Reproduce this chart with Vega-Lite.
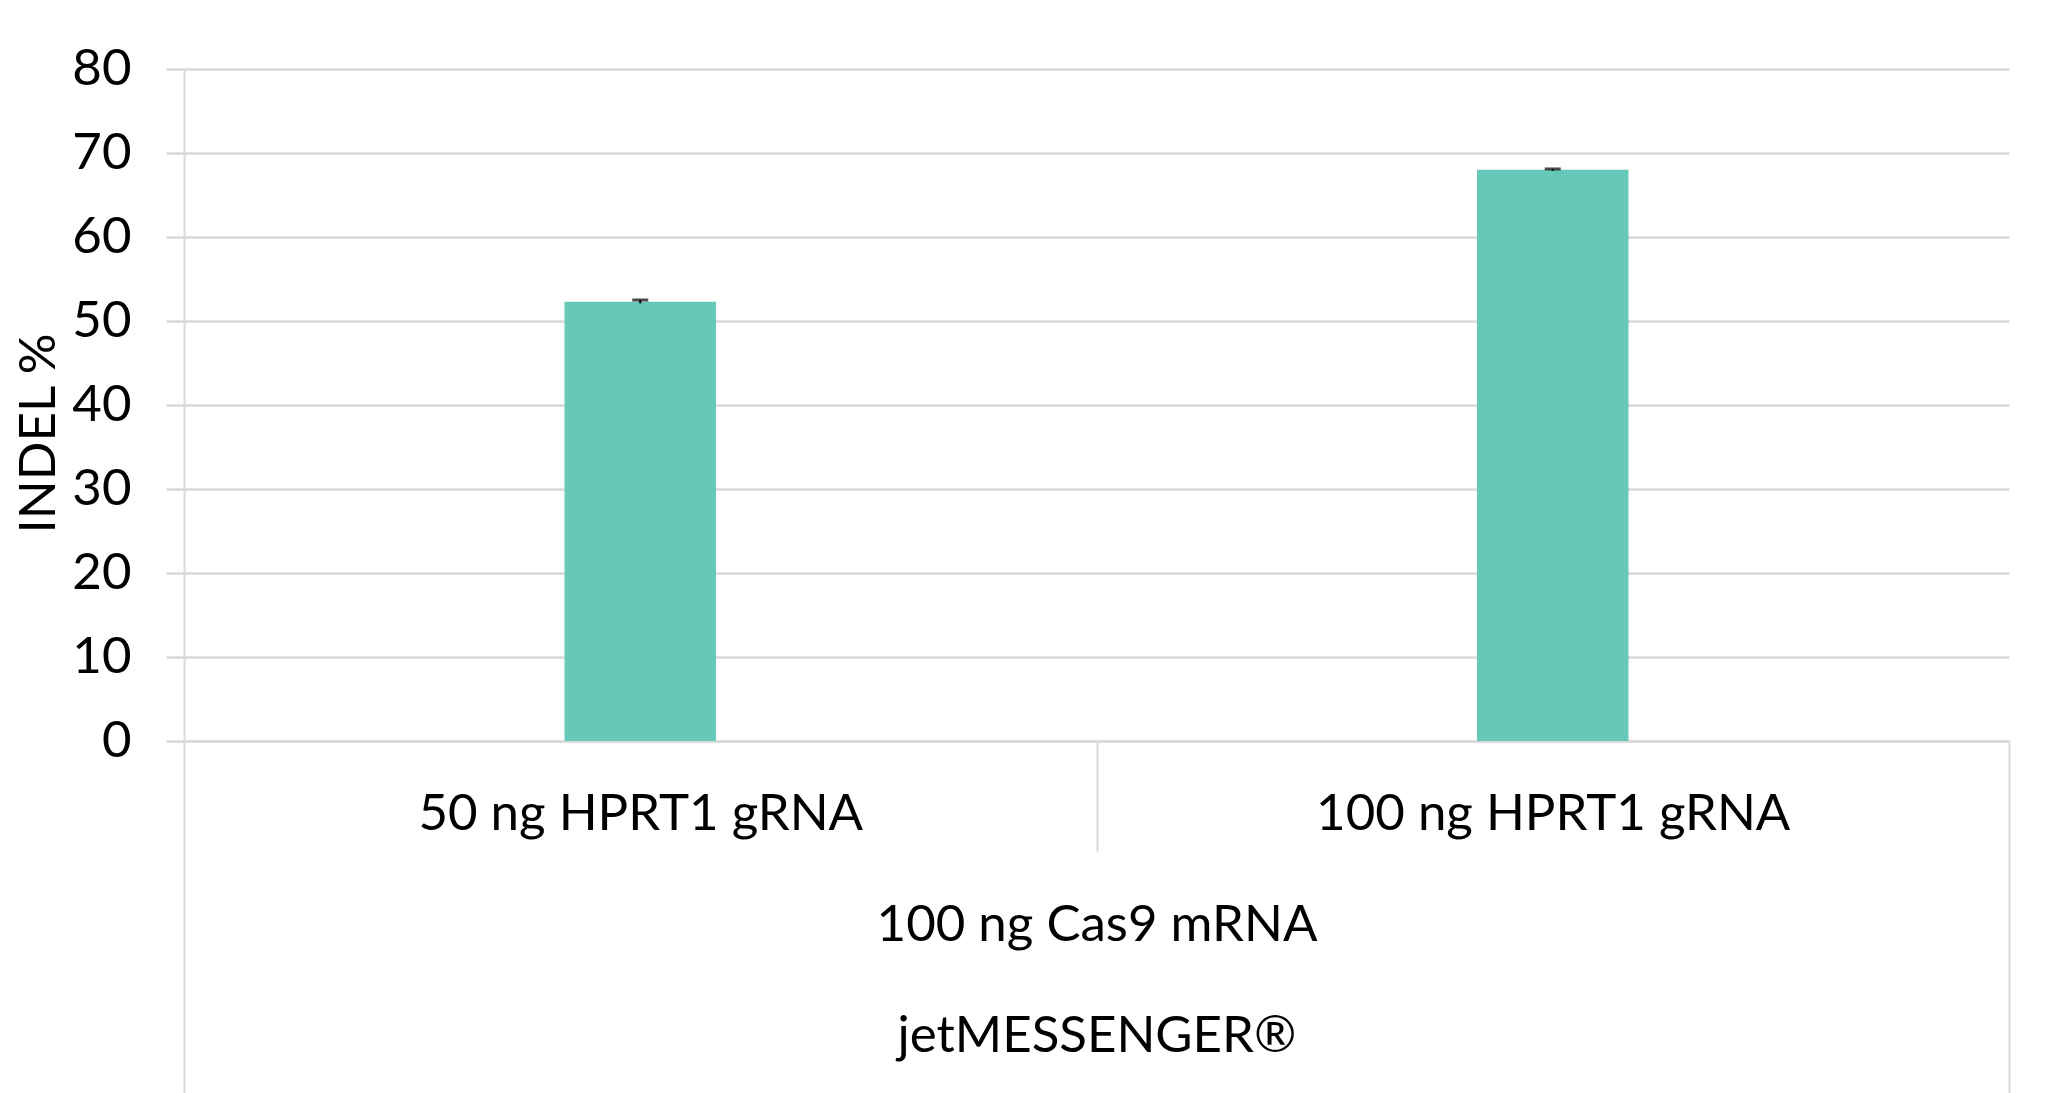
{
  "$schema": "https://vega.github.io/schema/vega-lite/v6.json",
  "width": 1825,
  "height": 672,
  "autosize": {"type": "none"},
  "padding": {"left": 184, "top": 69, "right": 39, "bottom": 352},
  "config": {"view": {"stroke": null}, "font": "Lato"},
  "data": {
    "values": [
      {"group": "50 ng HPRT1 gRNA", "indel": 52.3, "err": 0.2},
      {"group": "100 ng HPRT1 gRNA", "indel": 68.0, "err": 0.1}
    ]
  },
  "encoding": {
    "x": {
      "field": "group",
      "type": "nominal",
      "sort": null,
      "scale": {"paddingInner": 0, "paddingOuter": 0},
      "axis": {
        "title": ["100 ng Cas9 mRNA", "jetMESSENGER®"],
        "labelAngle": 0,
        "labelFontSize": 51,
        "labelColor": "#000000",
        "labelBaseline": "middle",
        "labelPadding": {"condition": {"test": "datum.value === '50 ng HPRT1 gRNA'", "value": -37}, "value": -279},
        "labelLimit": 0,
        "tickSize": {"condition": {"test": "datum.value === '50 ng HPRT1 gRNA'", "value": 110}, "value": 352},
        "tickBand": "extent",
        "tickColor": "#d9d9d9",
        "tickWidth": 2,
        "domainColor": "#d9d9d9",
        "domainWidth": 2.5,
        "titleFontSize": 51,
        "titleFontWeight": "normal",
        "titleColor": "#000000",
        "titleLineHeight": 111,
        "titleBaseline": "middle",
        "titleY": 184
      }
    }
  },
  "layer": [
    {
      "mark": {"type": "bar", "color": "#66c8b8", "width": {"band": 0.166}},
      "encoding": {
        "y": {
          "field": "indel",
          "type": "quantitative",
          "scale": {"domain": [0, 80]},
          "axis": {
            "values": [0, 10, 20, 30, 40, 50, 60, 70, 80],
            "title": "INDEL %",
            "grid": true,
            "gridColor": "#d9d9d9",
            "gridWidth": 2.5,
            "tickColor": "#d9d9d9",
            "tickSize": 18,
            "tickWidth": 2.5,
            "domainColor": "#d9d9d9",
            "domainWidth": 2,
            "labelFontSize": 51,
            "labelColor": "#000000",
            "labelPadding": 35,
            "titleFontSize": 51,
            "titleFontWeight": "normal",
            "titleColor": "#000000",
            "titleAngle": -90,
            "titleX": -145,
            "titleY": 364,
            "titleAlign": "center",
            "titleBaseline": "middle"
          }
        }
      }
    },
    {
      "transform": [
        {"calculate": "datum.indel - datum.err", "as": "lo"},
        {"calculate": "datum.indel + datum.err", "as": "hi"}
      ],
      "mark": {"type": "rule", "color": "#000000", "strokeWidth": 2},
      "encoding": {
        "y": {"field": "lo", "type": "quantitative"},
        "y2": {"field": "hi"}
      }
    },
    {
      "transform": [
        {"calculate": "datum.indel + datum.err", "as": "hi"}
      ],
      "mark": {"type": "tick", "color": "#000000", "size": 16, "thickness": 3, "orient": "horizontal"},
      "encoding": {
        "y": {"field": "hi", "type": "quantitative"}
      }
    }
  ]
}
